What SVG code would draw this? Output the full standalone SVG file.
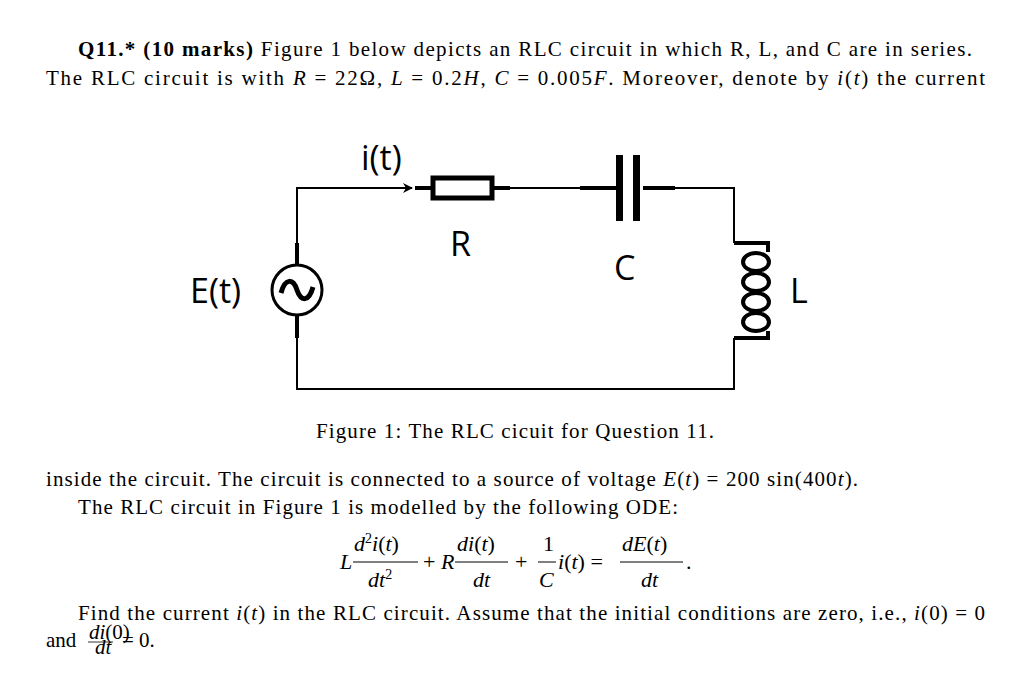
<svg xmlns="http://www.w3.org/2000/svg" width="1024" height="687" viewBox="0 0 1024 687">
<style>
.t{font-family:"Liberation Serif","DejaVu Serif",serif;font-size:21px;fill:#000}
.e{font-family:"Liberation Serif","DejaVu Serif",serif;font-size:22px;fill:#000}
.i{font-style:italic}
.s{font-family:"Open Sans","Noto Sans",sans-serif;font-size:34px;fill:#000}
.w{stroke:#000;stroke-width:2;fill:none}
.k{stroke:#000;stroke-width:4;fill:none}
</style>
<defs><marker id="a" markerWidth="10" markerHeight="10" refX="9" refY="5" orient="auto" markerUnits="userSpaceOnUse"><path d="M0,0 L10,5 L0,10 L3,5z" fill="#000"/></marker></defs>
<rect width="1024" height="687" fill="#fff"/>
<text class="t" x="78" y="56" textLength="894" lengthAdjust="spacing"><tspan font-weight="bold">Q11.* (10 marks)</tspan> Figure 1 below depicts an RLC circuit in which R, L, and C are in series.</text>
<text class="t" x="46" y="85" textLength="939" lengthAdjust="spacing">The RLC circuit is with <tspan class="i">R</tspan> = 22Ω, <tspan class="i">L</tspan> = 0.2<tspan class="i">H</tspan>, <tspan class="i">C</tspan> = 0.005<tspan class="i">F</tspan>. Moreover, denote by <tspan class="i">i</tspan>(<tspan class="i">t</tspan>) the current</text>
<g id="connectors">
<path class="w" d="M297,243 V188 H412" marker-end="url(#a)"/>
<path class="w" d="M510,188 H580"/>
<path class="w" d="M675,188 H734 V243"/>
<path class="w" d="M297,338 V389 H734 V338"/>
</g>
<g id="source">
<path class="k" d="M297,243 V265 M297,315 V338"/>
<circle cx="297" cy="290" r="25" fill="#fff" stroke="#000" stroke-width="3"/>
<path d="M281,293 C285,278 293,278 297,290 C301,302 309,302 313,287" stroke="#000" stroke-width="5" fill="none"/>
<text class="s" x="190" y="303">E(t)</text>
</g>
<g id="resistor">
<path class="k" d="M415,188 H431 M494,188 H510"/>
<rect x="433" y="178" width="59" height="20" fill="#fff" stroke="#000" stroke-width="5"/>
<text class="s" x="450" y="256">R</text>
<text class="s" x="361" y="170">i(t)</text>
</g>
<g id="capacitor">
<path class="k" d="M580,188 H617 M643,188 H675"/>
<rect x="616" y="155" width="7" height="66" fill="#000"/>
<rect x="633" y="155" width="7" height="66" fill="#000"/>
<text class="s" x="614" y="280">C</text>
</g>
<g id="inductor">
<path class="k" d="M734,243 H768 V252 M734,338 H768 V331"/>
<ellipse cx="756" cy="262" rx="13" ry="9" class="k"/>
<ellipse cx="756" cy="282" rx="13" ry="9" class="k"/>
<ellipse cx="756" cy="302" rx="13" ry="9" class="k"/>
<ellipse cx="756" cy="322" rx="13" ry="9" class="k"/>
<text class="s" x="790" y="303">L</text>
</g>
<text class="t" x="316" y="438" textLength="398" lengthAdjust="spacing">Figure 1: The RLC cicuit for Question 11.</text>
<text class="t" x="46" y="486" textLength="812" lengthAdjust="spacing">inside the circuit. The circuit is connected to a source of voltage <tspan class="i">E</tspan>(<tspan class="i">t</tspan>) = 200 sin(400<tspan class="i">t</tspan>).</text>
<text class="t" x="78" y="514" textLength="600" lengthAdjust="spacing">The RLC circuit in Figure 1 is modelled by the following ODE:</text>
<g id="equation">
<text class="e i" x="340" y="569">L</text>
<text class="e" x="354" y="551"><tspan class="i">d</tspan><tspan font-size="14" dy="-8">2</tspan><tspan class="i" dy="8">i</tspan>(<tspan class="i">t</tspan>)</text>
<line x1="353" y1="562" x2="418" y2="562" stroke="#000" stroke-width="1"/>
<text class="e" x="368" y="587"><tspan class="i">dt</tspan><tspan font-size="14" dy="-8">2</tspan></text>
<text class="e" x="423" y="569">+ <tspan class="i">R</tspan></text>
<text class="e" x="457" y="551"><tspan class="i">di</tspan>(<tspan class="i">t</tspan>)</text>
<line x1="455" y1="562" x2="508" y2="562" stroke="#000" stroke-width="1"/>
<text class="e i" x="473" y="587">dt</text>
<text class="e" x="515" y="569">+</text>
<text class="e" x="543" y="551">1</text>
<line x1="538" y1="562" x2="556" y2="562" stroke="#000" stroke-width="1"/>
<text class="e i" x="539" y="587">C</text>
<text class="e" x="558" y="569"><tspan class="i">i</tspan>(<tspan class="i">t</tspan>) =</text>
<text class="e" x="622" y="551"><tspan class="i">dE</tspan>(<tspan class="i">t</tspan>)</text>
<line x1="620" y1="562" x2="683" y2="562" stroke="#000" stroke-width="1"/>
<text class="e i" x="641" y="587">dt</text>
<text class="e" x="686" y="569">.</text>
</g>
<text class="t" x="78" y="620" textLength="907" lengthAdjust="spacing">Find the current <tspan class="i">i</tspan>(<tspan class="i">t</tspan>) in the RLC circuit. Assume that the initial conditions are zero, i.e., <tspan class="i">i</tspan>(0) = 0</text>
<text class="t" x="46" y="647">and</text>
<text class="t" x="89" y="639" font-size="11"><tspan class="i">di</tspan>(0)</text>
<line x1="88" y1="642" x2="113" y2="642" stroke="#000" stroke-width="0.8"/>
<text class="t i" x="95" y="654" font-size="11">dt</text>
<text class="t" x="122" y="647">= 0.</text>
</svg>
